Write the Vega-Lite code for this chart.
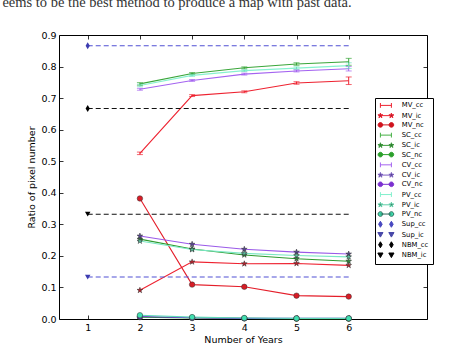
{
  "$schema": "https://vega.github.io/schema/vega-lite/v6.json",
  "width": 368,
  "height": 284,
  "autosize": "none",
  "padding": {"left": 59, "top": 35, "right": 47, "bottom": 36},
  "title": {
    "text": "eems to be the best method to produce a map with past data.",
    "anchor": "start",
    "orient": "top",
    "offset": 0,
    "dx": -24.5,
    "dy": -9,
    "baseline": "alphabetic",
    "font": "Liberation Serif",
    "fontSize": 14.5,
    "fontWeight": "normal",
    "color": "#333333"
  },
  "config": {
    "view": {"stroke": "black", "strokeWidth": 1},
    "axis": {
      "domain": false,
      "grid": false,
      "tickColor": "black",
      "tickSize": -4,
      "tickWidth": 0.8,
      "labelFont": "DejaVu Sans",
      "labelFontSize": 9.5,
      "labelColor": "black",
      "labelFlush": false,
      "labelOverlap": false,
      "titleFont": "DejaVu Sans",
      "titleFontSize": 9.5,
      "titleFontWeight": "normal",
      "titleColor": "black"
    }
  },
  "datasets": {
    "main": [
      {"series": "MV_cc", "kind": "cc", "years": 2, "ratio": 0.525, "err": 0.004},
      {"series": "MV_cc", "kind": "cc", "years": 3, "ratio": 0.708, "err": 0.003},
      {"series": "MV_cc", "kind": "cc", "years": 4, "ratio": 0.720, "err": 0.003},
      {"series": "MV_cc", "kind": "cc", "years": 5, "ratio": 0.748, "err": 0.004},
      {"series": "MV_cc", "kind": "cc", "years": 6, "ratio": 0.755, "err": 0.012},
      {"series": "MV_ic", "kind": "ic", "years": 2, "ratio": 0.091, "err": 0.002},
      {"series": "MV_ic", "kind": "ic", "years": 3, "ratio": 0.181, "err": 0.002},
      {"series": "MV_ic", "kind": "ic", "years": 4, "ratio": 0.175, "err": 0.002},
      {"series": "MV_ic", "kind": "ic", "years": 5, "ratio": 0.176, "err": 0.002},
      {"series": "MV_ic", "kind": "ic", "years": 6, "ratio": 0.170, "err": 0.004},
      {"series": "MV_nc", "kind": "nc", "years": 2, "ratio": 0.382, "err": 0.002},
      {"series": "MV_nc", "kind": "nc", "years": 3, "ratio": 0.109, "err": 0.002},
      {"series": "MV_nc", "kind": "nc", "years": 4, "ratio": 0.102, "err": 0.002},
      {"series": "MV_nc", "kind": "nc", "years": 5, "ratio": 0.074, "err": 0.002},
      {"series": "MV_nc", "kind": "nc", "years": 6, "ratio": 0.071, "err": 0.002},
      {"series": "SC_cc", "kind": "cc", "years": 2, "ratio": 0.745, "err": 0.004},
      {"series": "SC_cc", "kind": "cc", "years": 3, "ratio": 0.778, "err": 0.003},
      {"series": "SC_cc", "kind": "cc", "years": 4, "ratio": 0.796, "err": 0.003},
      {"series": "SC_cc", "kind": "cc", "years": 5, "ratio": 0.808, "err": 0.004},
      {"series": "SC_cc", "kind": "cc", "years": 6, "ratio": 0.815, "err": 0.011},
      {"series": "SC_ic", "kind": "ic", "years": 2, "ratio": 0.253, "err": 0.002},
      {"series": "SC_ic", "kind": "ic", "years": 3, "ratio": 0.222, "err": 0.002},
      {"series": "SC_ic", "kind": "ic", "years": 4, "ratio": 0.203, "err": 0.002},
      {"series": "SC_ic", "kind": "ic", "years": 5, "ratio": 0.191, "err": 0.002},
      {"series": "SC_ic", "kind": "ic", "years": 6, "ratio": 0.183, "err": 0.004},
      {"series": "SC_nc", "kind": "nc", "years": 2, "ratio": 0.006, "err": 0.001},
      {"series": "SC_nc", "kind": "nc", "years": 3, "ratio": 0.003, "err": 0.001},
      {"series": "SC_nc", "kind": "nc", "years": 4, "ratio": 0.002, "err": 0.001},
      {"series": "SC_nc", "kind": "nc", "years": 5, "ratio": 0.001, "err": 0.001},
      {"series": "SC_nc", "kind": "nc", "years": 6, "ratio": 0.001, "err": 0.001},
      {"series": "CV_cc", "kind": "cc", "years": 2, "ratio": 0.728, "err": 0.003},
      {"series": "CV_cc", "kind": "cc", "years": 3, "ratio": 0.756, "err": 0.003},
      {"series": "CV_cc", "kind": "cc", "years": 4, "ratio": 0.776, "err": 0.003},
      {"series": "CV_cc", "kind": "cc", "years": 5, "ratio": 0.786, "err": 0.003},
      {"series": "CV_cc", "kind": "cc", "years": 6, "ratio": 0.793, "err": 0.007},
      {"series": "CV_ic", "kind": "ic", "years": 2, "ratio": 0.263, "err": 0.002},
      {"series": "CV_ic", "kind": "ic", "years": 3, "ratio": 0.237, "err": 0.002},
      {"series": "CV_ic", "kind": "ic", "years": 4, "ratio": 0.221, "err": 0.002},
      {"series": "CV_ic", "kind": "ic", "years": 5, "ratio": 0.212, "err": 0.002},
      {"series": "CV_ic", "kind": "ic", "years": 6, "ratio": 0.206, "err": 0.005},
      {"series": "CV_nc", "kind": "nc", "years": 2, "ratio": 0.008, "err": 0.001},
      {"series": "CV_nc", "kind": "nc", "years": 3, "ratio": 0.004, "err": 0.001},
      {"series": "CV_nc", "kind": "nc", "years": 4, "ratio": 0.002, "err": 0.001},
      {"series": "CV_nc", "kind": "nc", "years": 5, "ratio": 0.002, "err": 0.001},
      {"series": "CV_nc", "kind": "nc", "years": 6, "ratio": 0.002, "err": 0.001},
      {"series": "PV_cc", "kind": "cc", "years": 2, "ratio": 0.740, "err": 0.004},
      {"series": "PV_cc", "kind": "cc", "years": 3, "ratio": 0.772, "err": 0.003},
      {"series": "PV_cc", "kind": "cc", "years": 4, "ratio": 0.787, "err": 0.003},
      {"series": "PV_cc", "kind": "cc", "years": 5, "ratio": 0.795, "err": 0.004},
      {"series": "PV_cc", "kind": "cc", "years": 6, "ratio": 0.803, "err": 0.009},
      {"series": "PV_ic", "kind": "ic", "years": 2, "ratio": 0.247, "err": 0.002},
      {"series": "PV_ic", "kind": "ic", "years": 3, "ratio": 0.220, "err": 0.002},
      {"series": "PV_ic", "kind": "ic", "years": 4, "ratio": 0.208, "err": 0.002},
      {"series": "PV_ic", "kind": "ic", "years": 5, "ratio": 0.201, "err": 0.002},
      {"series": "PV_ic", "kind": "ic", "years": 6, "ratio": 0.197, "err": 0.004},
      {"series": "PV_nc", "kind": "nc", "years": 2, "ratio": 0.012, "err": 0.001},
      {"series": "PV_nc", "kind": "nc", "years": 3, "ratio": 0.006, "err": 0.001},
      {"series": "PV_nc", "kind": "nc", "years": 4, "ratio": 0.003, "err": 0.001},
      {"series": "PV_nc", "kind": "nc", "years": 5, "ratio": 0.002, "err": 0.001},
      {"series": "PV_nc", "kind": "nc", "years": 6, "ratio": 0.002, "err": 0.001}
    ],
    "base": [
      {"series": "Sup_cc", "kind": "cc", "years": 1, "ratio": 0.866},
      {"series": "Sup_cc", "kind": "cc", "years": 6, "ratio": 0.866},
      {"series": "Sup_ic", "kind": "ic", "years": 1, "ratio": 0.133},
      {"series": "Sup_ic", "kind": "ic", "years": 6, "ratio": 0.133},
      {"series": "NBM_cc", "kind": "cc", "years": 1, "ratio": 0.667},
      {"series": "NBM_cc", "kind": "cc", "years": 6, "ratio": 0.667},
      {"series": "NBM_ic", "kind": "ic", "years": 1, "ratio": 0.332},
      {"series": "NBM_ic", "kind": "ic", "years": 6, "ratio": 0.332}
    ],
    "leg": [
      {"series": "MV_cc"}, {"series": "MV_ic"}, {"series": "MV_nc"},
      {"series": "SC_cc"}, {"series": "SC_ic"}, {"series": "SC_nc"},
      {"series": "CV_cc"}, {"series": "CV_ic"}, {"series": "CV_nc"},
      {"series": "PV_cc"}, {"series": "PV_ic"}, {"series": "PV_nc"},
      {"series": "Sup_cc"}, {"series": "Sup_ic"}, {"series": "NBM_cc"}, {"series": "NBM_ic"}
    ]
  },
  "layer": [
    {
      "data": {"name": "main"},
      "mark": {"type": "line", "strokeWidth": 1.1},
      "encoding": {
        "x": {"field": "years", "type": "quantitative", "scale": {"domain": [0.45, 7.5], "nice": false, "zero": false},
              "axis": {"orient": "bottom", "values": [1, 2, 3, 4, 5, 6], "format": "d", "title": "Number of Years", "labelPadding": 7, "titlePadding": 3}},
        "y": {"field": "ratio", "type": "quantitative", "scale": {"domain": [0, 0.9], "nice": false, "zero": false},
              "axis": {"orient": "left", "values": [0, 0.1, 0.2, 0.3, 0.4, 0.5, 0.6, 0.7, 0.8, 0.9], "format": ".1f", "title": "Ratio of pixel number", "labelPadding": 7, "titlePadding": 4}},
        "color": {"field": "series", "type": "nominal", "legend": null,
                  "scale": {"domain": ["MV_cc", "MV_ic", "MV_nc", "SC_cc", "SC_ic", "SC_nc", "CV_cc", "CV_ic", "CV_nc", "PV_cc", "PV_ic", "PV_nc"],
                            "range": ["#ee2230", "#ee2230", "#e41e2a", "#3aa63a", "#2e9a2e", "#2e9a2e", "#a463f0", "#9a5ae8", "#6a3ad0", "#86f2cf", "#7ae8c4", "#5fd8b8"]}}
      }
    },
    {
      "data": {"name": "base"},
      "mark": {"type": "line", "strokeWidth": 1.1, "strokeDash": [5, 3]},
      "encoding": {
        "x": {"field": "years", "type": "quantitative", "scale": {"domain": [0.45, 7.5], "nice": false, "zero": false},
              "axis": {"orient": "top", "values": [1, 2, 3, 4, 5, 6], "labels": false, "title": null}},
        "y": {"field": "ratio", "type": "quantitative", "scale": {"domain": [0, 0.9], "nice": false, "zero": false},
              "axis": {"orient": "right", "values": [0, 0.1, 0.2, 0.3, 0.4, 0.5, 0.6, 0.7, 0.8, 0.9], "labels": false, "title": null}},
        "color": {"field": "series", "type": "nominal", "legend": null,
                  "scale": {"domain": ["Sup_cc", "Sup_ic", "NBM_cc", "NBM_ic"], "range": ["#5050d4", "#5050d4", "#111111", "#111111"]}}
      }
    },
    {
      "data": {"name": "main"},
      "transform": [{"filter": "datum.kind == 'cc'"}],
      "mark": {"type": "errorbar", "ticks": {"size": 6, "thickness": 1}, "rule": {"strokeWidth": 1}},
      "encoding": {
        "x": {"field": "years", "type": "quantitative", "axis": null},
        "y": {"field": "ratio", "type": "quantitative", "axis": null},
        "yError": {"field": "err"},
        "color": {"field": "series", "type": "nominal", "legend": null,
                  "scale": {"domain": ["MV_cc", "SC_cc", "CV_cc", "PV_cc"], "range": ["#ee2230", "#3aa63a", "#a463f0", "#70e0c0"]}}
      }
    },
    {
      "data": {"name": "main"},
      "transform": [{"filter": "datum.kind == 'ic'"}],
      "mark": {"type": "point", "filled": true, "opacity": 1, "size": 36, "stroke": "#2a2a2a", "strokeWidth": 0.5,
               "shape": "M0,-1L0.2245,-0.309L0.951,-0.309L0.363,0.118L0.588,0.809L0,0.382L-0.588,0.809L-0.363,0.118L-0.951,-0.309L-0.2245,-0.309Z"},
      "encoding": {
        "x": {"field": "years", "type": "quantitative", "axis": null},
        "y": {"field": "ratio", "type": "quantitative", "axis": null},
        "color": {"field": "series", "type": "nominal", "legend": null,
                  "scale": {"domain": ["MV_ic", "SC_ic", "CV_ic", "PV_ic"], "range": ["#b8242e", "#2e8a3a", "#5a4a96", "#5cc0a0"]}}
      }
    },
    {
      "data": {"name": "main"},
      "transform": [{"filter": "datum.kind == 'nc'"}],
      "mark": {"type": "point", "filled": true, "opacity": 1, "size": 30, "shape": "circle", "stroke": "#333333", "strokeWidth": 0.5},
      "encoding": {
        "x": {"field": "years", "type": "quantitative", "axis": null},
        "y": {"field": "ratio", "type": "quantitative", "axis": null},
        "color": {"field": "series", "type": "nominal", "legend": null,
                  "scale": {"domain": ["MV_nc", "SC_nc", "CV_nc", "PV_nc"], "range": ["#d81c26", "#2ca02c", "#7b30d0", "#40e0b0"]}}
      }
    },
    {
      "data": {"name": "base"},
      "transform": [{"filter": "datum.years == 1 && datum.kind == 'cc'"}],
      "mark": {"type": "point", "filled": true, "opacity": 1, "size": 49, "shape": "M0,-1L0.6,0L0,1L-0.6,0Z"},
      "encoding": {
        "x": {"field": "years", "type": "quantitative", "axis": null},
        "y": {"field": "ratio", "type": "quantitative", "axis": null},
        "color": {"field": "series", "type": "nominal", "legend": null,
                  "scale": {"domain": ["Sup_cc", "NBM_cc"], "range": ["#3c3cb0", "#000000"]}}
      }
    },
    {
      "data": {"name": "base"},
      "transform": [{"filter": "datum.years == 1 && datum.kind == 'ic'"}],
      "mark": {"type": "point", "filled": true, "opacity": 1, "size": 30, "shape": "triangle-down"},
      "encoding": {
        "x": {"field": "years", "type": "quantitative", "axis": null},
        "y": {"field": "ratio", "type": "quantitative", "axis": null},
        "color": {"field": "series", "type": "nominal", "legend": null,
                  "scale": {"domain": ["Sup_ic", "NBM_ic"], "range": ["#3c3cb0", "#000000"]}}
      }
    },
    {
      "data": {"name": "leg"},
      "mark": {"type": "point", "filled": true, "opacity": 0, "size": 16},
      "encoding": {
        "shape": {"field": "series", "type": "nominal",
          "scale": {"domain": ["MV_cc", "MV_ic", "MV_nc", "SC_cc", "SC_ic", "SC_nc", "CV_cc", "CV_ic", "CV_nc", "PV_cc", "PV_ic", "PV_nc", "Sup_cc", "Sup_ic", "NBM_cc", "NBM_ic"],
                    "range": [
                      "M-5.5,0L0,0M-5.5,-1.2L-5.5,1.2M0,-1.2L0,1.2",
                      "M-5.5,0L0,0M-5.5,-1.3L-5.21,-0.4L-4.26,-0.4L-5.03,0.15L-4.74,1.05L-5.5,0.5L-6.26,1.05L-5.97,0.15L-6.74,-0.4L-5.79,-0.4ZM0,-1.3L0.29,-0.4L1.24,-0.4L0.47,0.15L0.76,1.05L0,0.5L-0.76,1.05L-0.47,0.15L-1.24,-0.4L-0.29,-0.4Z",
                      "M-5.5,0L0,0M-6.65,0A1.15,1.15 0 1,1 -4.35,0A1.15,1.15 0 1,1 -6.65,0ZM-1.15,0A1.15,1.15 0 1,1 1.15,0A1.15,1.15 0 1,1 -1.15,0Z",
                      "M-5.5,0L0,0M-5.5,-1.2L-5.5,1.2M0,-1.2L0,1.2",
                      "M-5.5,0L0,0M-5.5,-1.3L-5.21,-0.4L-4.26,-0.4L-5.03,0.15L-4.74,1.05L-5.5,0.5L-6.26,1.05L-5.97,0.15L-6.74,-0.4L-5.79,-0.4ZM0,-1.3L0.29,-0.4L1.24,-0.4L0.47,0.15L0.76,1.05L0,0.5L-0.76,1.05L-0.47,0.15L-1.24,-0.4L-0.29,-0.4Z",
                      "M-5.5,0L0,0M-6.65,0A1.15,1.15 0 1,1 -4.35,0A1.15,1.15 0 1,1 -6.65,0ZM-1.15,0A1.15,1.15 0 1,1 1.15,0A1.15,1.15 0 1,1 -1.15,0Z",
                      "M-5.5,0L0,0M-5.5,-1.2L-5.5,1.2M0,-1.2L0,1.2",
                      "M-5.5,0L0,0M-5.5,-1.3L-5.21,-0.4L-4.26,-0.4L-5.03,0.15L-4.74,1.05L-5.5,0.5L-6.26,1.05L-5.97,0.15L-6.74,-0.4L-5.79,-0.4ZM0,-1.3L0.29,-0.4L1.24,-0.4L0.47,0.15L0.76,1.05L0,0.5L-0.76,1.05L-0.47,0.15L-1.24,-0.4L-0.29,-0.4Z",
                      "M-5.5,0L0,0M-6.65,0A1.15,1.15 0 1,1 -4.35,0A1.15,1.15 0 1,1 -6.65,0ZM-1.15,0A1.15,1.15 0 1,1 1.15,0A1.15,1.15 0 1,1 -1.15,0Z",
                      "M-5.5,0L0,0M-5.5,-1.2L-5.5,1.2M0,-1.2L0,1.2",
                      "M-5.5,0L0,0M-5.5,-1.3L-5.21,-0.4L-4.26,-0.4L-5.03,0.15L-4.74,1.05L-5.5,0.5L-6.26,1.05L-5.97,0.15L-6.74,-0.4L-5.79,-0.4ZM0,-1.3L0.29,-0.4L1.24,-0.4L0.47,0.15L0.76,1.05L0,0.5L-0.76,1.05L-0.47,0.15L-1.24,-0.4L-0.29,-0.4Z",
                      "M-5.5,0L0,0M-6.65,0A1.15,1.15 0 1,1 -4.35,0A1.15,1.15 0 1,1 -6.65,0ZM-1.15,0A1.15,1.15 0 1,1 1.15,0A1.15,1.15 0 1,1 -1.15,0Z",
                      "M-5.5,-1.5L-4.6,0L-5.5,1.5L-6.4,0ZM0,-1.5L0.9,0L0,1.5L-0.9,0Z",
                      "M-6.8,-1L-4.2,-1L-5.5,1.3ZM-1.3,-1L1.3,-1L0,1.3Z",
                      "M-5.5,-1.5L-4.6,0L-5.5,1.5L-6.4,0ZM0,-1.5L0.9,0L0,1.5L-0.9,0Z",
                      "M-6.8,-1L-4.2,-1L-5.5,1.3ZM-1.3,-1L1.3,-1L0,1.3Z"
                    ]},
          "legend": {"orient": "none", "legendX": 316, "legendY": 63, "title": null, "padding": 4, "strokeColor": "black", "fillColor": "white", "cornerRadius": 0,
                     "labelFont": "DejaVu Sans", "labelFontSize": 6.8, "labelColor": "black", "labelOffset": 7, "symbolOffset": 9, "rowPadding": 0.24, "symbolSize": 16, "symbolStrokeWidth": 1, "labelLimit": 100,
                     "encode": {"symbols": {"update": {"opacity": {"value": 1}, "fillOpacity": {"value": 1}, "strokeOpacity": {"value": 1}}}}}},
        "fill": {"field": "series", "type": "nominal",
          "scale": {"domain": ["MV_cc", "MV_ic", "MV_nc", "SC_cc", "SC_ic", "SC_nc", "CV_cc", "CV_ic", "CV_nc", "PV_cc", "PV_ic", "PV_nc", "Sup_cc", "Sup_ic", "NBM_cc", "NBM_ic"],
                    "range": ["transparent", "#8b1a2a", "#d0141e", "transparent", "#2a5a32", "#2ca02c", "transparent", "#4a3f7a", "#7b30d0", "transparent", "#3a6a5a", "#40e0b0", "#4848c0", "#4848a8", "#000000", "#000000"]},
          "legend": {"orient": "none", "legendX": 316, "legendY": 63, "title": null, "padding": 4, "strokeColor": "black", "fillColor": "white", "cornerRadius": 0,
                     "labelFont": "DejaVu Sans", "labelFontSize": 6.8, "labelColor": "black", "labelOffset": 7, "symbolOffset": 9, "rowPadding": 0.24, "symbolSize": 16, "symbolStrokeWidth": 1, "labelLimit": 100,
                     "encode": {"symbols": {"update": {"opacity": {"value": 1}, "fillOpacity": {"value": 1}, "strokeOpacity": {"value": 1}}}}}},
        "stroke": {"field": "series", "type": "nominal",
          "scale": {"domain": ["MV_cc", "MV_ic", "MV_nc", "SC_cc", "SC_ic", "SC_nc", "CV_cc", "CV_ic", "CV_nc", "PV_cc", "PV_ic", "PV_nc", "Sup_cc", "Sup_ic", "NBM_cc", "NBM_ic"],
                    "range": ["#ee2230", "#ee2230", "#d0141e", "#44b044", "#3a9a3a", "#2ca02c", "#a463f0", "#7a5cc0", "#7b30d0", "#80f0cc", "#5fcfa8", "#2a6a5a", "#4848c0", "#4848a8", "#000000", "#000000"]},
          "legend": {"orient": "none", "legendX": 316, "legendY": 63, "title": null, "padding": 4, "strokeColor": "black", "fillColor": "white", "cornerRadius": 0,
                     "labelFont": "DejaVu Sans", "labelFontSize": 6.8, "labelColor": "black", "labelOffset": 7, "symbolOffset": 9, "rowPadding": 0.24, "symbolSize": 16, "symbolStrokeWidth": 1, "labelLimit": 100,
                     "encode": {"symbols": {"update": {"opacity": {"value": 1}, "fillOpacity": {"value": 1}, "strokeOpacity": {"value": 1}}}}}}
      }
    }
  ],
  "resolve": {
    "scale": {"color": "independent", "fill": "independent", "stroke": "independent", "shape": "independent"},
    "axis": {"x": "independent", "y": "independent"}
  }
}
